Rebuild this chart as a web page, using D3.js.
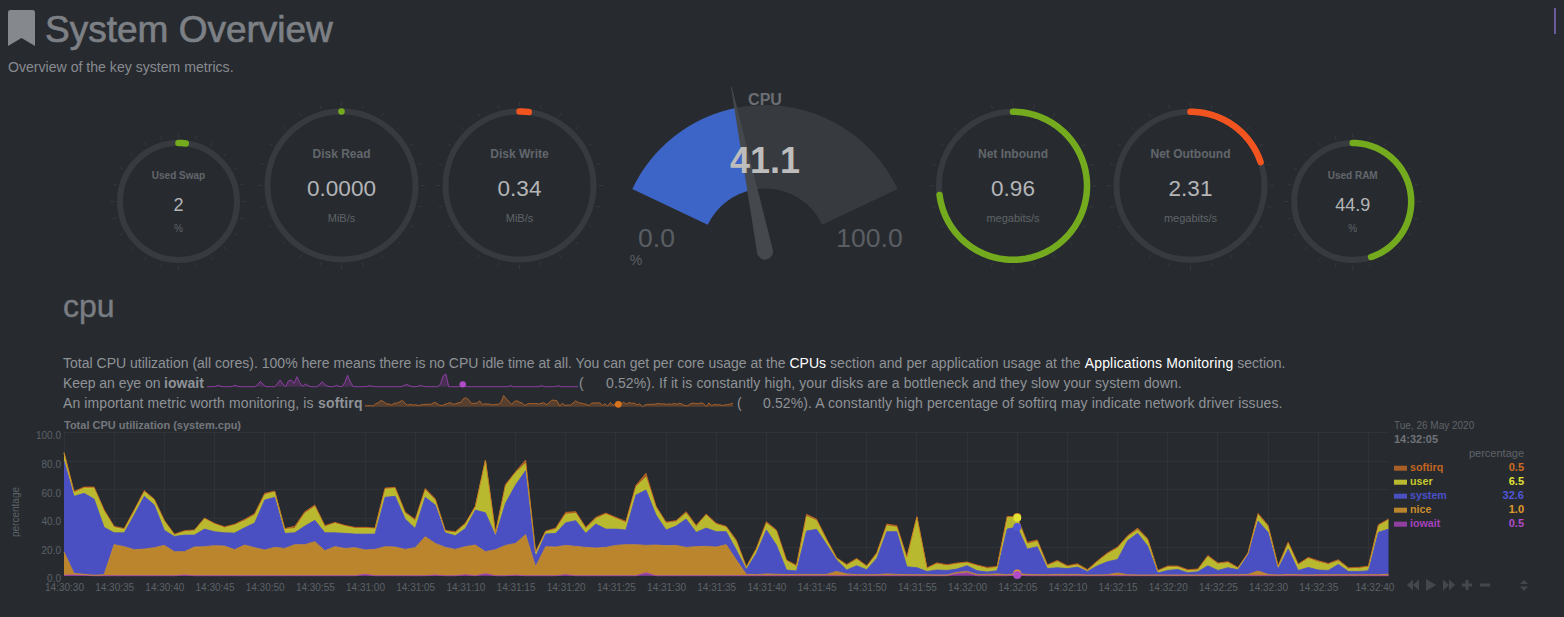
<!DOCTYPE html>
<html><head><meta charset="utf-8">
<script src="https://cdn.jsdelivr.net/npm/d3@7/dist/d3.min.js"></script>
<style>html,body{margin:0;padding:0;background:#272b30;overflow:hidden}svg{display:block}text{font-family:"Liberation Sans",Arial,sans-serif}</style>
</head><body><svg id="c" width="1564" height="617"></svg>
<script>
const xLabels=["14:30:30","14:30:35","14:30:40","14:30:45","14:30:50","14:30:55","14:31:00","14:31:05","14:31:10","14:31:15","14:31:20","14:31:25","14:31:30","14:31:35","14:31:40","14:31:45","14:31:50","14:31:55","14:32:00","14:32:05","14:32:10","14:32:15","14:32:20","14:32:25","14:32:30","14:32:35","14:32:40"];
const yTicks=[0,20,40,60,80,100];
const seriesKeys=["iowait","nice","system","user","softirq"];
const iowait=[0.3,0.5,0.3,0,0,0,0,0,0,0,0,0,0.5,0,0,0,0,0,0,0,0,0,0,0,0,0,0,0,0,0,1,0,0,0,0,0,0,0.5,0,0,0.7,0,1.4,0,0,0.4,0,0,0,0,0.7,0,0,0,0,0,0,0,2,0,0,0,0,0,0,0,0,0,0,0,0,0,0,0,0,0,0,0,0,0,0,0,0,0,0,0,0,0,0,1.4,2,0,0,0,0,0.5,0,0,0,0,0,0,0,0,0,0,0,0,0,0,0,0,0,0,0,0,0,0,0,0,0,0,0,0,0,0,0,0,0,0,0,0,0];
const nice=[16.3,1.1,0.7,0.3,0.7,21.7,20.3,18.2,18.6,19.6,21.2,16.8,16.3,20,20.3,21,20.7,18.2,21.4,19.6,18,19.8,19.1,21.7,21.7,23.8,17.5,20.3,19,19.6,17,18.4,20.3,20,18.4,19.6,27.3,22.1,19.8,18.4,19.6,21.4,15.4,18.2,21.2,22.2,28.7,6.3,20.3,20,20.5,20.5,19.8,19.3,19.8,21.2,21.7,21.7,19.2,21.4,21,21.2,19.8,20.3,20.5,20,21.7,11,1,0.7,1.2,1,0.8,0.9,0.9,0.9,0.9,3,1.2,0.7,0.7,0.7,1.2,0.9,0.7,0.7,0.7,0.5,0.5,0.9,1,0.9,0.9,1.2,0.7,1,0.9,0.7,0.7,0.9,0.9,0.9,0.5,0.5,0.7,1.9,0.7,0.5,0.5,0.5,0.5,0.5,0.5,0.5,0.5,0.7,0.7,0.7,0.9,3.3,0.9,0.5,0.9,0.7,0.5,0.7,0.7,0.7,0.7,0.7,0.7,0.7,1];
const system=[63.7,53.9,56.6,53.3,33.1,8.3,9.7,24.2,36.9,29.8,10.5,10.7,11.6,8.4,12.3,9.8,9.3,11.6,12.2,17.2,34.9,35,10.5,8.3,13,14.9,12.5,9.7,10.6,9.5,11.1,10.7,34.5,35.5,21.2,13.4,27.5,26.8,10.2,9.6,12.7,24.5,27.2,9.8,29.4,40.8,44.7,7,8.8,9.6,15.8,18,9.8,16.8,12.8,11.4,10.3,34.7,38.7,21,11,13.5,19.8,10,12.8,10.8,9.1,7,3.4,14.9,30.8,20.4,3.2,2.4,30.3,31.5,21,8,2.8,6.3,3.5,11.4,29.6,29.9,5.6,4.9,2.3,3.5,3.2,2.4,4,2.6,1.7,2.3,31.9,32.6,17.7,19.6,4.3,4.7,4.1,5.1,2.5,6.5,9.1,9.5,23.8,29.1,20.2,1.4,3.2,3.9,1.6,2.3,6.5,3,4.9,3.5,14.1,34.9,29.4,4.4,17.7,3,5.3,3.3,3,7.2,2.3,2.3,2.8,29.6,31.6];
const user=[5.5,2.5,3.7,7.7,11.7,3.8,2.4,3.1,3.2,3.5,6.5,1.2,2.4,3.1,7.3,5.3,3.6,5.6,4.9,5.6,3.7,3.7,2.8,3,8.9,9.6,4.3,6.6,5.1,4,4,3.8,5.8,5.5,4,5.5,5.1,3.5,1,2,3,2.4,36.4,1.6,12.1,8.6,5.2,2.7,1.7,2.8,5.9,5.1,3.4,3.8,10.3,7.4,5,5.8,8.9,5.4,4.6,3.1,4,4,9.1,5.1,3,5.8,1.4,2.8,4.6,9.8,6.3,3.2,10.3,6.1,3.1,1.1,3.2,4.4,2.1,3.1,4.2,3,6.1,35.2,2.1,4.2,3.3,3.5,2,3.3,2.5,2.3,8.2,6.5,3.5,3.7,2,4.2,1.3,1.5,0.5,2.8,5.4,7.9,2.8,2.4,4.3,1.4,2.3,1.6,1.4,1.2,6.3,4.5,3.5,0.9,0.5,4.2,4,1.4,4,3.8,6.3,5.6,4.2,2.4,1.9,2.1,2.5,4.7,6.3];
const softirq=[0.5,1,0.7,0.7,0.5,0.7,0.6,0.5,0.8,0.7,0.5,0.3,0.7,0.5,0.4,0.5,0.6,0.6,0.9,1,1,0.7,0.6,1.5,1.2,1.1,0.7,0.7,0.5,0.7,0.7,0.4,0.7,0.8,0.9,0.9,1.1,0.9,0.7,0.8,0.8,0.4,0.5,0.4,1.2,0.7,2.3,0.8,0.4,0.9,1.4,1.2,0.8,0.9,0.9,0.8,1,1,2.8,0.9,0.9,0.7,1.2,0.9,0.7,0.7,0.7,1.2,0.5,0.7,1.2,0.8,0.7,0.8,1.4,1.1,0.6,0.5,0.7,0.7,0.7,0.8,1.1,1.2,0.6,0.5,0.5,0.8,0.7,0.7,0.6,0.7,0.7,0.7,0.7,0.5,1.2,1,0.7,0.9,0.7,0.9,0.9,0.7,0.8,0.7,0.7,1.3,0.9,0.4,0.8,0.8,0.7,0.7,0.9,0.7,0.7,0.7,0.5,1.2,0.9,0.7,0.9,0.7,0.7,0.9,0.7,0.9,0.7,0.7,0.8,0.7,0.7];
const iowaitSpark=[0,0,0,0.07,0.3,0.07,0,0,0,0.07,0.3,0.07,0,0,0,0,0,0,0.44,1.18,0.44,0,0,0,0,0.59,1.48,0.59,0,1.33,1.48,0.74,2.22,0.89,0.07,0.59,0.22,0,0,0,0.44,1.11,0.44,0.07,0,0,0.3,0.07,0,0.89,2.52,1.04,0,0,0,0,0,0.07,0.22,0.07,0,0,0,0,0,0,0,0,0,0,0.22,0.52,0.22,0,0,0.07,0.3,0.07,0,0,0,0,0,0.44,2.37,2.81,0,0,0,0,0,0.52,0,0,0,0,0,0,0,0,0,0,0,0,0,0,0,0,0.22,0,0,0,0,0,0,0,0,0,0,0.22,0,0,0,0,0,0.22,0,0,0,0,0,0,0];
const softirqSpark=[0.2,0.2,0.26,0.13,0.65,0.91,1.37,1.11,0.65,0.59,0.39,0.78,0.78,1.11,1.37,0.78,0.33,0.52,0.33,0.46,0.26,0.39,0.52,0.52,0.52,0.59,0.98,0.72,0.33,0.26,0.52,0.72,0.91,0.52,0.65,0.85,0.98,1.82,1.95,1.43,0.65,0.78,0.78,1.3,0.46,0.65,0.59,0.52,0.39,0.52,0.52,0.98,2.47,1.69,1.17,0.46,1.17,1.3,0.98,0.78,0.26,0.65,0.72,0.65,0.72,0.59,0.72,0.91,0.46,0.85,1.43,1.43,1.3,0.13,0.78,0.26,0.39,0.33,0.78,1.3,0.91,0.78,0.65,0.52,0.26,0.78,0.85,0.78,0.91,0.26,0.65,0.13,0.91,0.33,0.65,0.52,0.65,0.98,0.52,0.91,0.78,0.78,0.39,0.65,0,0.39,0.52,0.52,0.52,0.59,0.72,0.59,0.65,0.52,0.59,0.52,0.72,0.52,0.78,0.52,0.26,0.2,0.65,0.78,0.72,0.65,0.85,0.65,0,0.85,0.2,0.52,0.39,0.46,0.26,0.39,0.46,0.59,0.78];
const legendValues=[0.5,6.5,32.6,1.0,0.5];
const legendOrder=["softirq","user","system","nice","iowait"];
const gaugeNames=["Used Swap","Disk Read","Disk Write","Net Inbound","Net Outbound","Used RAM"];
const gaugeValues=["2","0.0000","0.34","0.96","2.31","44.9"];
const gaugeUnits=["%","MiB/s","MiB/s","megabits/s","megabits/s","%"];
const gaugeFractions=[0.02,0,0.02,0.73,0.198,0.449];
const cpuValue=41.1;

const P={softirq:{fill:"#a85e27",line:"#c86a20",text:"#c2651f",val:"#d06c20"},
user:{fill:"#b9b92f",line:"#d0d02e",text:"#c8c82c",val:"#e2e234"},
system:{fill:"#4a50c2",line:"#4e54d0",text:"#4a50c8",val:"#5056d8"},
nice:{fill:"#bb852e",line:"#d3962c",text:"#cc8c2a",val:"#e09a2c"},
iowait:{fill:"#8f3fa0",line:"#ad48c2",text:"#a442ba",val:"#b04cc8"}};
const svg=d3.select("#c");
const txt=(x,y,s,size,fill,opt={})=>{const t=svg.append("text").attr("x",x).attr("y",y).attr("font-size",size).attr("fill",fill)
  .attr("font-weight",opt.w||"normal").attr("text-anchor",opt.a||"start").text(s);
  if(opt.ls)t.attr("letter-spacing",opt.ls);
  if(opt.st)t.attr("stroke",fill).attr("stroke-width",opt.st);
  return t;};

/* header */
svg.append("path").attr("d","M8 12.5q0-2.500 2.500-2.500h22q2.500 0 2.500 2.500V46L21.500 38 8 46Z").attr("fill","#85888d");
txt(45,42,"System Overview",37,"#7d8085",{st:0.7});
txt(8,72,"Overview of the key system metrics.",14.1,"#878a8f");
svg.append("rect").attr("x",1554).attr("y",8).attr("width",2).attr("height",26).attr("fill","#6a5a9a");

/* easy-pie gauges */
const gaugeGeom=[[178.5,201.5,61.5],[341.5,185.5,77],[519.5,185.5,77],[1013,185.8,77],[1190.5,185.8,77],[1352.7,201.5,61.5]];
const gaugeColor=["#74aa1e","#74aa1e","#f2541f","#74aa1e","#f2541f","#74aa1e"];
const tickAngles=d3.range(0,360,15);
gaugeNames.forEach((n,i)=>{
  const [cx,cy,r]=gaugeGeom[i], big=r>70, g=svg.append("g").attr("transform",`translate(${cx},${cy})`);
  g.selectAll("line").data(tickAngles).join("line")
   .attr("x1",d=>Math.sin(d*Math.PI/180)*(r+2.5)).attr("y1",d=>-Math.cos(d*Math.PI/180)*(r+2.5))
   .attr("x2",d=>Math.sin(d*Math.PI/180)*(r+6.5)).attr("y2",d=>-Math.cos(d*Math.PI/180)*(r+6.5))
   .attr("stroke","#35393e").attr("stroke-width",1);
  const sw=6;
  g.append("circle").attr("r",r-sw/2).attr("fill","none").attr("stroke","#373b40").attr("stroke-width",sw);
  const end=gaugeFractions[i]*2*Math.PI;
  const angles=d3.range(0,end,0.02).concat([end+0.0001]);
  g.append("path").attr("d",d3.lineRadial().angle(d=>d).radius(r-sw/2)(angles))
   .attr("fill","none").attr("stroke",gaugeColor[i]).attr("stroke-width",sw+0.5).attr("stroke-linecap","round");
  const t=(y,s,size,fill,w)=>g.append("text").attr("y",y).attr("text-anchor","middle").attr("font-size",size).attr("fill",fill).attr("font-weight",w||"normal").text(s);
  t(big?-28:-22.500,n,big?12:10,"#62666b","bold");
  t(big?10:9,gaugeValues[i],big?22.5:18,"#b4b5b7");
  t(big?36:30,gaugeUnits[i],big?11:10,"#5f6367");
});

/* CPU gauge */
const gc=svg.append("g").attr("transform","translate(765,251.7)");
const span=d3.scaleLinear().domain([0,100]).range([-64.7*Math.PI/180,64.7*Math.PI/180]);
const ar=d3.arc().innerRadius(63.3).outerRadius(146.7);
gc.append("path").attr("d",ar({startAngle:span(0),endAngle:span(100)})).attr("fill","#373a3f");
gc.append("path").attr("d",ar({startAngle:span(0),endAngle:span(cpuValue)})).attr("fill","#3d65c8");
const ang=span(cpuValue)*180/Math.PI;
gc.append("path").attr("transform",`rotate(${ang})`).attr("d","M-0.4 -168.500L0.4 -168.500L8 0A8 8 0 0 1 -8 0Z").attr("fill","#45484d");
txt(765,105,"CPU",16,"#6b6e73",{w:"bold",a:"middle"});
txt(765,173,cpuValue.toFixed(1),36,"#bdbdbd",{w:"bold",a:"middle"});
txt(656.5,247,"0.0",26.5,"#5a5e63",{a:"middle"});
txt(869.5,247,"100.0",26.5,"#5a5e63",{a:"middle"});
txt(636,265,"%",14,"#5a5e63",{a:"middle"});

/* section text */
txt(63,317,"cpu",32,"#7a7d82",{st:0.4});
const DC="#8f9296";
const line1=txt(63,368,"",14,DC);
[["Total CPU utilization (all cores). 100% here means there is no CPU idle time at all. You can get per core usage at the ",DC,0.01],["CPUs","#ffffff",0],[" section and per application usage at the ",DC,0.08],["Applications Monitoring","#ffffff",0.17],[" section.",DC,0]]
 .forEach(([s,c,ls])=>line1.append("tspan").attr("fill",c).attr("letter-spacing",ls).text(s));
txt(63,388,"Keep an eye on ",14,DC,{ls:-0.05});
txt(164,388,"iowait",14,DC,{w:"bold",ls:0.05});
txt(579,388,"(",14,DC); txt(606,388,"0.52%). If it is constantly high, your disks are a bottleneck and they slow your system down.",14,DC,{ls:0.1});
txt(63,408,"An important metric worth monitoring, is ",14,DC,{ls:0.1});
txt(318,408,"softirq",14,DC,{w:"bold",ls:0.15});
txt(737,408,"(",14,DC); txt(763,408,"0.52%). A constantly high percentage of softirq may indicate network driver issues.",14,DC,{ls:0.11});

function spark(data,x0,x1,yBase,color,fill,dot,dotR,cursor){
  const x=d3.scaleLinear().domain([0,data.length-1]).range([x0,x1]);
  const y=d3.scaleLinear().domain([0,2.81]).range([yBase,yBase-12.7]);
  const g=svg.append("g");
  g.append("path").attr("d",d3.area().x((d,i)=>x(i)).y0(yBase).y1(d=>y(d))(data)).attr("fill",fill);
  g.append("path").attr("d",d3.line().x((d,i)=>x(i)).y(d=>y(d))(data)).attr("fill","none").attr("stroke",color).attr("stroke-width",1);
  g.append("circle").attr("cx",x(cursor)).attr("cy",y(data[cursor])).attr("r",dotR).attr("fill",dot);
}
spark(iowaitSpark,207,578,386.7,"#8e3fa3","#4a2f55","#b04cc8",3.2,91);
spark(softirqSpark,365,733,406.7,"#a8602a","#57402f","#d8741f",3.4,95);

/* main chart */
const X=d3.scaleLinear().domain([0,132]).range([64,1388.5]);
const Y=d3.scaleLinear().domain([0,100]).range([575.7,432.7]);
const xTicks=xLabels.map((d,i)=>i*5);
const grid=svg.append("g").attr("stroke","#2f3338").attr("stroke-width",1).attr("shape-rendering","crispEdges");
grid.selectAll(".v").data(xTicks).join("line").attr("class","v").attr("x1",d=>X(d)).attr("x2",d=>X(d)).attr("y1",Y(100)).attr("y2",Y(0));
grid.selectAll(".h").data(yTicks).join("line").attr("class","h").attr("x1",X(0)).attr("x2",X(132)).attr("y1",d=>Y(d)).attr("y2",d=>Y(d));

const rows=iowait.map((d,i)=>({iowait:iowait[i],nice:nice[i],system:system[i],user:user[i],softirq:softirq[i]}));
const stacked=d3.stack().keys(seriesKeys)(rows);
const areaGen=d3.area().x((d,i)=>X(i)).y0(d=>Y(d[0])).y1(d=>Y(d[1]));
const topLine=d3.line().x((d,i)=>X(i)).y(d=>Y(d[1]));
const marks=svg.append("g");
stacked.forEach(s=>{
  marks.append("path").attr("d",areaGen(s)).attr("fill",P[s.key].fill);
});
stacked.forEach(s=>{
  marks.append("path").attr("d",topLine(s)).attr("fill","none").attr("stroke",P[s.key].line).attr("stroke-width",0.8);
});
const cursorIdx=95;
[...stacked].reverse().forEach(s=>{
  svg.append("circle").attr("cx",X(cursorIdx)).attr("cy",Y(s[cursorIdx][1])).attr("r",4)
   .attr("fill",P[s.key].val);
});

const xAxis=d3.axisBottom(X).tickValues(xTicks).tickFormat((d,i)=>xLabels[i]).tickSize(0).tickPadding(0);
const gx=svg.append("g").attr("transform","translate(0,583.500)").call(xAxis);
gx.select(".domain").remove();
gx.selectAll("text").attr("font-size",10).attr("fill","#5d6166");
gx.selectAll(".tick:last-of-type text").attr("dx",6);
const yAxis=d3.axisLeft(Y).tickValues(yTicks).tickFormat(d=>d.toFixed(1)).tickSize(0).tickPadding(3);
const gy=svg.append("g").attr("transform","translate(64,3)").call(yAxis);
gy.select(".domain").remove();
gy.selectAll("text").attr("font-size",10).attr("fill","#5d6166");
svg.selectAll(".tick text").style("font-family",'"Liberation Sans",Arial,sans-serif');
svg.append("text").attr("transform","translate(19,512) rotate(-90)").attr("text-anchor","middle").attr("font-size",10).attr("fill","#5d6166").text("percentage");
txt(64,429,"Total CPU utilization (system.cpu)",11,"#74777c",{w:"bold"});

/* legend */
txt(1394,429,"Tue, 26 May 2020",10,"#5f6368");
txt(1394,443,"14:32:05",11,"#6f7277",{w:"bold"});
txt(1524,457,"percentage",11,"#5f6368",{a:"end"});
const ly=d3.scalePoint().domain(legendOrder).range([470,526]);
legendOrder.forEach((k,i)=>{
  svg.append("rect").attr("x",1394).attr("y",ly(k)-4.300).attr("width",13).attr("height",5).attr("fill",P[k].fill);
  txt(1410,ly(k)+0.500,k,10.7,P[k].text,{w:"bold"});
  txt(1524,ly(k)+0.500,legendValues[i].toFixed(1),11,P[k].val,{w:"bold",a:"end"});
});

/* playback icons */
const ic="#44484d";
const poly=(pts)=>svg.append("path").attr("d",d3.line()(pts)+"Z").attr("fill",ic);
poly([[1413,579.5],[1413,590.5],[1407,585]]);poly([[1419,579.5],[1419,590.5],[1413,585]]);
poly([[1426,579],[1426,591],[1436,585]]);
poly([[1443,579.5],[1443,590.5],[1449,585]]);poly([[1449,579.5],[1449,590.5],[1455,585]]);
svg.append("rect").attr("x",1462).attr("y",583.500).attr("width",10).attr("height",3).attr("fill",ic);
svg.append("rect").attr("x",1465.500).attr("y",580).attr("width",3).attr("height",10).attr("fill",ic);
svg.append("rect").attr("x",1480).attr("y",583.500).attr("width",10).attr("height",3).attr("fill",ic);
poly([[1524,580],[1528,584],[1520,584]]);poly([[1524,591],[1528,586.500],[1520,586.500]]);
</script></body></html>
